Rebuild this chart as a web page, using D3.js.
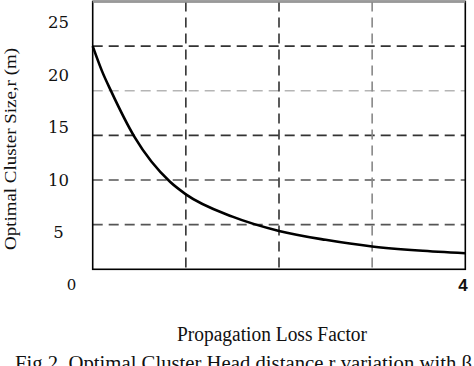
<!DOCTYPE html>
<meta charset='utf-8'>
<script src='https://d3js.org/d3.v7.min.js'></script>
<style>
body {margin:0; background:#fff;}
svg text {fill:#111;}
.grid line {stroke-width:1.6; stroke-dasharray:10,6;}
</style>
<body>
<svg id='chart' width='474' height='366'></svg>
<script>
// curve (x = propagation loss factor, y = cluster size)
var lossFactor=[0,0.1,0.2,0.45,0.83,1,1.5,2,2.5,3,3.5,4];
var clusterSize=[25,22.2,19.9,14.8,9.8,8.4,5.9,4.3,3.3,2.55,2.1,1.8];
var xGrid=[1,2,3], yGrid=[5,10,15,20,25];
var yTickLabels=[0,5,10,15,20,25];
var xTickLabels=[0,4];
var yTitle='Optimal Cluster Size,r (m)';
var xTitle='Propagation Loss Factor';
var caption='Fig 2. Optimal Cluster Head distance r variation with \u03b2';

var box={left:92.7,right:465.3,top:1.5,bottom:269.3};
var svg=d3.select('#chart');
var x=d3.scaleLinear().domain([0,4]).range([box.left,box.right]);
var y=d3.scaleLinear().domain([0,30]).range([box.bottom,box.top]);
// the printed tick labels sit on their own spacing
var yLab=d3.scaleLinear().domain([0,25]).range([285,22]);
var xLab=d3.scaleLinear().domain([0,4]).range([71.5,463]);

var lightH=[20], lightV=[3];
svg.append('g').attr('class','grid').selectAll('line').data(yGrid).enter().append('line')
   .attr('x1',box.left).attr('x2',box.right)
   .attr('y1',function(d){return y(d)}).attr('y2',function(d){return y(d)})
   .attr('stroke',function(d){return lightH.indexOf(d)>=0?'#b5b5b5':(d<15?'#555':'#333')});
svg.append('g').attr('class','grid').selectAll('line').data(xGrid).enter().append('line')
   .attr('y1',box.top).attr('y2',box.bottom)
   .attr('x1',function(d){return x(d)}).attr('x2',function(d){return x(d)})
   .attr('stroke',function(d){return lightV.indexOf(d)>=0?'#888':'#333'});

svg.append('rect').attr('x',box.left).attr('y',box.top)
   .attr('width',box.right-box.left).attr('height',box.bottom-box.top)
   .attr('fill','none').attr('stroke','#000').attr('stroke-width',1.6);
svg.append('line').attr('x1',box.left).attr('x2',box.right).attr('y1',box.top).attr('y2',box.top)
   .attr('stroke','#999').attr('stroke-width',2.5);

var line=d3.line().x(function(d,i){return x(lossFactor[i])}).y(function(d){return y(d)})
               .curve(d3.curveMonotoneX);
svg.append('path').datum(clusterSize).attr('d',line)
   .attr('fill','none').attr('stroke','#000').attr('stroke-width',2.6);

svg.append('g').selectAll('text').data(yTickLabels.filter(function(d){return d>0})).enter().append('text')
   .attr('x',58.5).attr('y',function(d){return yLab(d)}).attr('dy','0.36em')
   .attr('text-anchor','middle').style('font-family','DejaVu Serif').style('font-size','16.5px')
   .text(function(d){return d});
svg.append('g').selectAll('text').data(xTickLabels).enter().append('text')
   .attr('x',function(d){return xLab(d)}).attr('y',285).attr('dy','0.36em')
   .attr('text-anchor','middle')
   .style('font-family',function(d){return d==0?'DejaVu Serif':'Liberation Sans'})
   .style('font-weight',function(d){return d==0?'normal':'bold'})
   .style('font-size',function(d){return d==0?'15px':'17px'})
   .text(function(d){return d});

svg.append('text').attr('transform','translate(16,149) rotate(-90)')
   .attr('text-anchor','middle').attr('textLength',202).attr('lengthAdjust','spacingAndGlyphs')
   .style('font-family','Liberation Serif').style('font-size','17px').text(yTitle);
svg.append('text').attr('x',272).attr('y',340.5).attr('text-anchor','middle')
   .attr('textLength',190).attr('lengthAdjust','spacingAndGlyphs')
   .style('font-family','Liberation Serif').style('font-size','20px').text(xTitle);
// the caption is cut by the bottom edge in the reference as well
svg.append('text').attr('x',15).attr('y',369.5)
   .attr('textLength',457).attr('lengthAdjust','spacingAndGlyphs')
   .style('font-family','Liberation Serif').style('font-size','20px').text(caption);
</script>
</body>
